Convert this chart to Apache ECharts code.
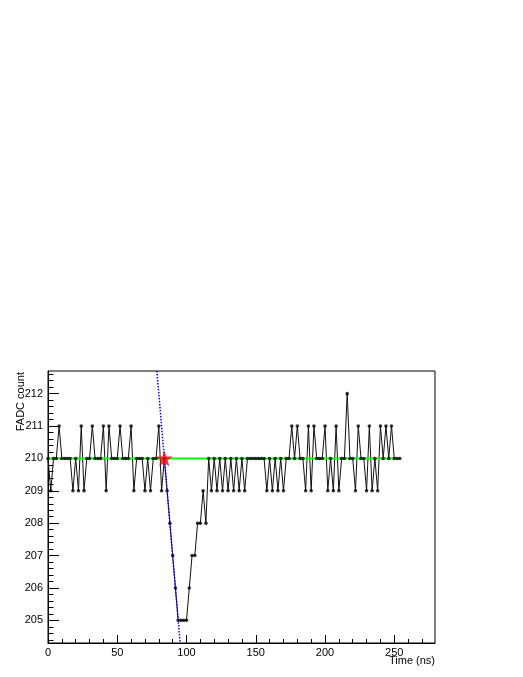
<!DOCTYPE html>
<html><head><meta charset="utf-8">
<script src="https://cdn.jsdelivr.net/npm/echarts@6/dist/echarts.min.js"></script>
<style>html,body{margin:0;padding:0;background:#fff}#c{width:523px;height:677px}</style>
</head><body><div id="c"></div>
<script>
// ---- data ----
const timeNs = [0,2,4,6,8,10,12,14,16,18,20,22,24,26,28,30,32,34,36,38,40,42,44,46,48,50,52,54,56,58,60,62,64,66,68,70,72,74,76,78,80,82,84,86,88,90,92,94,96,98,100,102,104,106,108,110,112,114,116,118,120,122,124,126,128,130,132,134,136,138,140,142,144,146,148,150,152,154,156,158,160,162,164,166,168,170,172,174,176,178,180,182,184,186,188,190,192,194,196,198,200,202,204,206,208,210,212,214,216,218,220,222,224,226,228,230,232,234,236,238,240,242,244,246,248,250,252,254];
const fadcCount = [210,209,210,210,211,210,210,210,210,209,210,209,211,209,210,210,211,210,210,210,211,209,211,210,210,210,211,210,210,210,211,209,210,210,210,209,210,209,210,210,211,209,210,209,208,207,206,205,205,205,205,206,207,207,208,208,209,208,210,209,210,209,210,209,210,209,210,209,210,209,210,209,210,210,210,210,210,210,210,209,210,209,210,209,210,209,210,210,211,210,211,210,210,209,211,209,211,210,210,210,211,209,210,209,211,209,210,210,212,210,210,209,211,210,210,209,211,209,210,209,211,210,211,210,211,210,210,210];
const baselineLevel = 210;
const edgeFitSlope = -0.5;
const edgeFitIntercept = 252;
const xTicks = [0,50,100,150,200,250];
const yTicks = [205,206,207,208,209,210,211,212];
const xRange = [0, 279.4];
const yRange = [204.3, 212.7];

// ---- helpers ----
function minorValues(major, range, div) {
  const step = (major[1] - major[0]) / div;
  const out = [];
  const start = Math.ceil((range[0] - 1e-9) / step);
  const end = Math.floor((range[1] + 1e-9) / step);
  for (let k = start; k <= end; k++) {
    const v = +(k * step).toFixed(6);
    if (major.some(m => Math.abs(m - v) < 1e-6)) continue;
    if (v <= range[0] + 1e-9 || v >= range[1] - 1e-9) continue;
    out.push(v);
  }
  return out;
}
const xMinor = minorValues(xTicks, xRange, 5);
const yMinor = minorValues(yTicks, yRange, 5);

const points = timeNs.map((t, i) => [t, fadcCount[i]]);
const baseline = [[timeNs[0], baselineLevel], [timeNs[timeNs.length - 1], baselineLevel]];
const fitX = y => (y - edgeFitIntercept) / edgeFitSlope;
const edgeLine = [[fitX(yRange[1]), yRange[1]], [fitX(yRange[0]), yRange[0]]];
const crossPoint = [fitX(baselineLevel), baselineLevel];

const FONT = 'Liberation Sans, Arial, Helvetica, sans-serif';
const star = 'path://M50,0 L61.2,34.5 L97.6,34.5 L68.2,55.9 L79.4,90.5 L50,69.1 L20.6,90.5 L31.8,55.9 L2.4,34.5 L38.8,34.5 Z';

const chart = echarts.init(document.getElementById('c'), null, {renderer: 'canvas'});
chart.setOption({
  animation: false,
  backgroundColor: '#fff',
  grid: {left: 48, right: 88, top: 371, bottom: 34, show: true, borderColor: '#000', borderWidth: 1, backgroundColor: 'transparent', containLabel: false, outerBoundsMode: 'none'},
  xAxis: [
    {type: 'value', min: xRange[0], max: xRange[1], position: 'bottom',
     axisLine: {show: true, onZero: false, lineStyle: {color: '#000', width: 1}},
     axisTick: {show: true, inside: true, length: 8, customValues: xTicks, lineStyle: {color: '#000', width: 1}},
     axisLabel: {show: true, customValues: xTicks, margin: 4, color: '#000', fontFamily: FONT, fontSize: 11},
     splitLine: {show: false}},
    {type: 'value', min: xRange[0], max: xRange[1], position: 'bottom',
     axisLine: {show: false},
     axisTick: {show: true, inside: true, length: 4, customValues: xMinor, lineStyle: {color: '#000', width: 1}},
     axisLabel: {show: false}, splitLine: {show: false}}
  ],
  yAxis: [
    {type: 'value', min: yRange[0], max: yRange[1], position: 'left',
     axisLine: {show: true, onZero: false, lineStyle: {color: '#000', width: 1}},
     axisTick: {show: true, inside: true, length: 11, customValues: yTicks, lineStyle: {color: '#000', width: 1}},
     axisLabel: {show: true, customValues: yTicks, margin: 5, color: '#000', fontFamily: FONT, fontSize: 11},
     splitLine: {show: false}},
    {type: 'value', min: yRange[0], max: yRange[1], position: 'left',
     axisLine: {show: false},
     axisTick: {show: true, inside: true, length: 5.5, customValues: yMinor, lineStyle: {color: '#000', width: 1}},
     axisLabel: {show: false}, splitLine: {show: false}}
  ],
  series: [
    {type: 'line', data: points, showSymbol: false, z: 2,
     lineStyle: {color: '#111', width: 1}},
    {type: 'line', data: baseline, showSymbol: false, z: 3,
     lineStyle: {color: '#00ff00', width: 2}},
    {type: 'scatter', data: points, symbol: 'circle', symbolSize: 3.6, z: 4,
     itemStyle: {color: '#000'}},
    {type: 'line', data: edgeLine, showSymbol: false, z: 5,
     lineStyle: {color: '#0000ff', width: 1.5, type: [1.5, 1.5]}},
    {type: 'scatter', data: [crossPoint], symbol: star, symbolSize: 17, symbolKeepAspect: true, z: 10,
     itemStyle: {color: '#ff0000'}}
  ],
  graphic: [
    {type: 'text', x: 21, y: 372, rotation: Math.PI / 2,
     style: {text: 'FADC count', fill: '#000', font: '11px ' + FONT, align: 'right', verticalAlign: 'middle'}},
    {type: 'text', x: 435, y: 661,
     style: {text: 'Time (ns)', fill: '#000', font: '11px ' + FONT, align: 'right', verticalAlign: 'middle'}}
  ]
});
</script>
</body></html>
